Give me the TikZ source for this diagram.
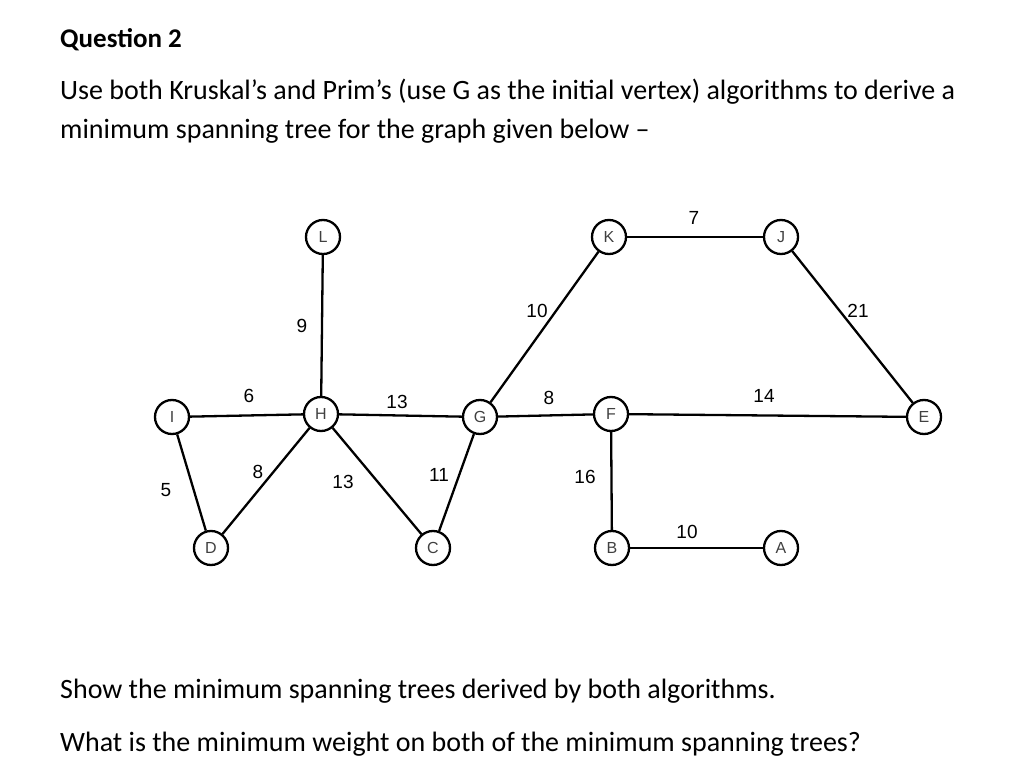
\documentclass[tikz,border=0pt]{standalone}
\usepackage{fontspec}
\setmainfont{Carlito}
\newfontfamily\arial{Liberation Sans}
\begin{document}
\begin{tikzpicture}[x=1pt,y=-1pt,
  vtx/.style={circle,draw,line width=2.3pt,minimum size=34pt,inner sep=0pt,font=\arial\fontsize{16}{16}\selectfont,text=black!75},
  wt/.style={font=\arial\fontsize{19}{19}\selectfont},
  edge/.style={line width=2.3pt},
  para/.style={anchor=base west,inner sep=0pt,font=\fontsize{28}{32}\selectfont}]
\useasboundingbox[fill=white] (0,0) rectangle (1020,783);
\node[para,font=\bfseries\fontsize{27}{32}\selectfont] (q) at (60,48) {Question 2};
\node[para] (p1) at (60,100) {Use both Kruskal’s and Prim’s (use G as the initial vertex) algorithms to derive a};
\node[para] (p2) at (60,139) {minimum spanning tree for the graph given below –};
\node[para] (p3) at (60,698) {Show the minimum spanning trees derived by both algorithms.};
\node[para] (p4) at (60,751) {What is the minimum weight on both of the minimum spanning trees?};

\node[vtx] (L) at (323,237) {L};
\node[vtx] (K) at (609,237) {K};
\node[vtx] (J) at (781,237) {J};
\node[vtx] (I) at (172,417) {I};
\node[vtx] (H) at (321,414) {H};
\node[vtx] (G) at (480,417) {G};
\node[vtx] (F) at (611,414) {F};
\node[vtx] (E) at (924,417) {E};
\node[vtx] (D) at (211,548) {D};
\node[vtx] (C) at (433,548) {C};
\node[vtx] (B) at (612,548) {B};
\node[vtx] (A) at (781,548) {A};

\draw[edge] (I)--(H); \draw[edge] (I)--(D); \draw[edge] (D)--(H);
\draw[edge] (H)--(L); \draw[edge] (H)--(G); \draw[edge] (H)--(C);
\draw[edge] (C)--(G); \draw[edge] (G)--(F); \draw[edge] (G)--(K);
\draw[edge] (K)--(J); \draw[edge] (J)--(E); \draw[edge] (F)--(E);
\draw[edge] (F)--(B); \draw[edge] (B)--(A);

\node[wt] (w1) at (694,218) {7};
\node[wt] (w2) at (537,311) {10};
\node[wt] (w3) at (858,311) {21};
\node[wt] (w4) at (302,326) {9};
\node[wt] (w5) at (249,396) {6};
\node[wt] (w6) at (397,402) {13};
\node[wt] (w7) at (549,398) {8};
\node[wt] (w8) at (764,396) {14};
\node[wt] (w9) at (166,490) {5};
\node[wt] (w10) at (258,472) {8};
\node[wt] (w11) at (343,482) {13};
\node[wt] (w12) at (439,475) {11};
\node[wt] (w13) at (585,477) {16};
\node[wt] (w14) at (687,532) {10};
\end{tikzpicture}
\end{document}
